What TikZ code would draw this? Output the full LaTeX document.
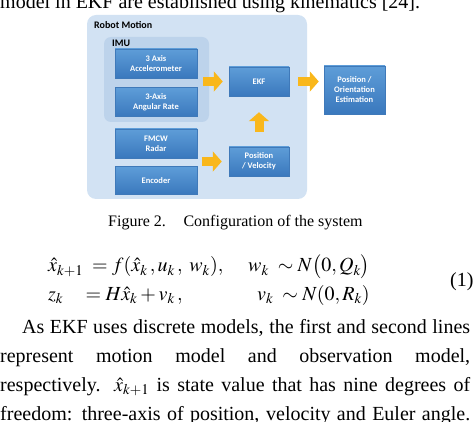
\documentclass[tikz,border=0pt]{standalone}
\usepackage{mathptmx}
\usepackage{fontspec}
\setmainfont{Liberation Serif}
\newfontfamily\diagfont{Carlito}
\usetikzlibrary{arrows.meta, positioning, fit}

\definecolor{panelblue}{HTML}{D2E2F3}
\definecolor{imublue}{HTML}{BDD3EB}
\definecolor{boxtop}{HTML}{5E9DD8}
\definecolor{boxbottom}{HTML}{3A78BD}
\definecolor{boxline}{HTML}{3F79B9}
\definecolor{flowgold}{HTML}{F9B71B}

\begin{document}
\begin{tikzpicture}[
    x=1pt, y=-1pt,
    node distance=9pt,
    panel/.style={rectangle, rounded corners=9pt, fill=panelblue, inner sep=0pt},
    imupanel/.style={rectangle, rounded corners=7pt, fill=imublue, inner sep=0pt},
    sensor/.style={rectangle, draw=boxline, line width=0.5pt, top color=boxtop, bottom color=boxbottom, minimum width=82pt, minimum height=29pt, align=center, text=white, font=\diagfont\bfseries\fontsize{8.5}{10}\selectfont, inner sep=1pt},
    tag/.style={anchor=north west, inner sep=0pt, font=\diagfont\bfseries\fontsize{10}{12}\selectfont},
    flow/.style={draw=flowgold, line width=9pt, -{Triangle[length=9pt, width=20pt]}},
    body/.style={anchor=base west, inner sep=0pt, font=\fontsize{20}{24}\selectfont},
]
\useasboundingbox (0,0) rectangle (474,422);
\clip (0,0) rectangle (474,422);

% text before the figure
\node[body] (prevline) at (0,9) {model in EKF are established using kinematics [24].};

% system panels
\node[panel, fit={(87,15) (307,199)}] (robot) {};
\node[tag] (robottag) at (94,21) {Robot Motion};
\node[imupanel, fit={(104,37) (209,122)}] (imu) {};
\node[tag] (imutag) at (112,40) {IMU};

% sensors and filter
\node[sensor] (accel) at (156,63.5) {3 Axis\\Accelerometer};
\node[sensor, below=of accel] (gyro) {3-Axis\\Angular Rate};
\node[sensor, below=12pt of gyro] (radar) {FMCW\\Radar};
\node[sensor, below=8pt of radar, minimum height=28pt] (encoder) {Encoder};
\node[sensor, minimum width=60pt] (ekf) at (259,81.5) {EKF};
\node[sensor, minimum width=60pt] (posvel) at (259,161.5) {Position\\/ Velocity};
\node[sensor, minimum width=61pt, minimum height=48pt] (estim) at (354.5,90) {Position /\\Orientation\\Estimation};

\draw[flow, shorten <=-6pt, shorten >=6pt] (imu.east |- ekf.west) -- (ekf.west);
\draw[flow, shorten <=9pt, shorten >=5pt] (ekf.east) -- (ekf.east -| estim.west);
\draw[flow, shorten <=5pt, shorten >=7pt] (radar.east |- posvel.west) -- (posvel.west);
\draw[flow, shorten <=15pt, shorten >=16pt] (posvel.north) -- (ekf.south);

% caption
\node[body, font=\fontsize{16}{19}\selectfont] (caption) at (108,227) {Figure 2.\hspace{1.1em}Configuration of the system};

% equation (1)
\node[body] (motion) at (48,272) {$\hat{x}_{k+1}\; = f(\hat{x}_k\,, u_k\,,\; w_k),$};
\node[body] (motionnoise) at (248,272) {$w_k \;\sim N\big(0, Q_k\big)$};
\node[body] (observe) at (48,300) {$z_k \;\;\;\; = H\hat{x}_k + v_k\,,$};
\node[body] (observenoise) at (257,300) {$v_k \;\sim N(0, R_k)$};
\node[body] (eqnum) at (450,287) {(1)};

% paragraph after the equation
\node[body] (para1) at (22,333) {\makebox[448pt][s]{As EKF uses discrete models, the first and second lines}};
\node[body] (para2) at (0,362) {\makebox[470pt][s]{represent motion model and observation model,}};
\node[body] (para3) at (0,391) {\makebox[470pt][s]{respectively. $\hat{x}_{k+1}$ is state value that has nine degrees of}};
\node[body] (para4) at (0,420) {\makebox[470pt][s]{freedom: three-axis of position, velocity and Euler angle.}};

\end{tikzpicture}
\end{document}
